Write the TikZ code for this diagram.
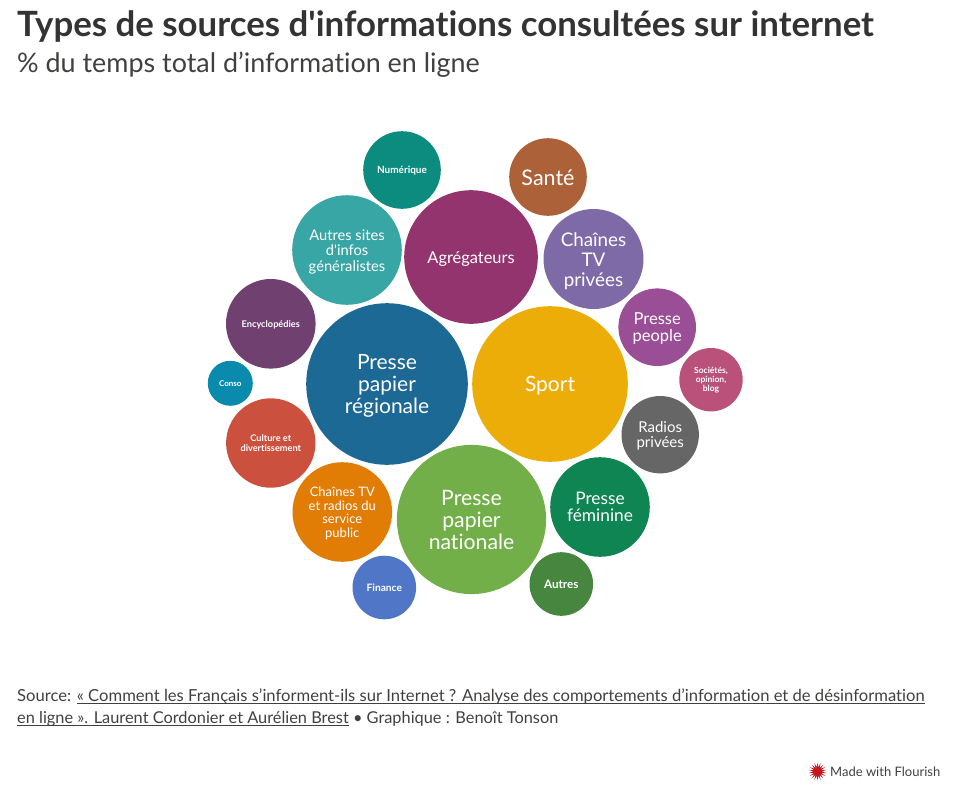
\documentclass[tikz,border=0pt]{standalone}
\usepackage{fontspec}
\setmainfont[Ligatures={TeXOff,NoCommon}]{Lato}
\usetikzlibrary{shapes.geometric}
\newsavebox{\boiteLien}
\newcommand{\souligne}[1]{\sbox{\boiteLien}{#1}\rlap{\rule[-2.5pt]{\wd\boiteLien}{0.9pt}}\usebox{\boiteLien}}
\newcommand{\haut}{\rule{0pt}{1.05em}}
\definecolor{encre}{HTML}{333333}
\definecolor{gris}{HTML}{42403F}
\definecolor{cRegionale}{HTML}{1D6996}
\definecolor{cSport}{HTML}{EDAD08}
\definecolor{cNationale}{HTML}{73AF48}
\definecolor{cAgregateurs}{HTML}{94346E}
\definecolor{cSites}{HTML}{38A6A5}
\definecolor{cPrivees}{HTML}{7F6AA8}
\definecolor{cFeminine}{HTML}{0F8554}
\definecolor{cPublic}{HTML}{E17C05}
\definecolor{cEncyclo}{HTML}{6F4070}
\definecolor{cCulture}{HTML}{CC503E}
\definecolor{cNumerique}{HTML}{0C8C7F}
\definecolor{cSante}{HTML}{AD6139}
\definecolor{cPeople}{HTML}{994E95}
\definecolor{cRadios}{HTML}{666666}
\definecolor{cFinance}{HTML}{4F76C7}
\definecolor{cAutres}{HTML}{46863F}
\definecolor{cSocietes}{HTML}{B9517A}
\definecolor{cConso}{HTML}{0A8AAD}
\definecolor{cLogo}{HTML}{C8161D}
\tikzset{
	bulle/.style n args={4}{circle, fill=#2, text=white, align=center, inner sep=0pt,
		minimum size=2*#1 pt, font=\fontsize{#3}{#4}\selectfont,
		execute at end node={\rule[-.3em]{0pt}{.3em}}},
	petit/.style 2 args={font=\fontsize{#1}{#2}\selectfont\bfseries},
	texte/.style={anchor=base west, inner sep=0pt, text=gris},
}
\begin{document}
\begin{tikzpicture}[x=1pt, y=-1pt]
	\path[use as bounding box] (0,0) rectangle (955,784);
	\node[texte, text=encre, font=\fontsize{34.8}{36}\selectfont\bfseries] (Titre) at (17,37) {Types de sources d'informations consultées sur internet};
	\node[texte, font=\fontsize{26.9}{30}\selectfont] (SousTitre) at (17,72) {\% du temps total d’information en ligne};
	\node[bulle={80.8}{cRegionale}{21}{22}] (Regionale) at (387,384) {\haut Presse\\papier\\régionale};
	\node[bulle={77.8}{cSport}{21}{22}] (Sport) at (550,384) {\haut Sport};
	\node[bulle={74.6}{cNationale}{21.2}{22}] (Nationale) at (471.5,519.5) {\haut Presse\\papier\\nationale};
	\node[bulle={66.8}{cAgregateurs}{16.4}{18}] (Agregateurs) at (471,257) {\haut Agrégateurs};
	\node[bulle={54.8}{cSites}{14.7}{15.5}] (Sites) at (347,250) {\haut Autres sites\\d'infos\\généralistes};
	\node[bulle={50}{cPrivees}{18.8}{20}] (Privees) at (593.5,259) {\haut Chaînes\\TV\\privées};
	\node[bulle={49.8}{cFeminine}{17.3}{17}] (Feminine) at (600,507) {\haut Presse\\féminine};
	\node[bulle={49.8}{cPublic}{13}{13.7}] (Public) at (342.3,512) {\haut Chaînes TV\\et radios du\\service\\public};
	\node[bulle={44.8}{cEncyclo}{9.2}{10}, petit={9.2}{10}] (Encyclo) at (270.8,323.8) {\haut Encyclopédies};
	\node[bulle={44.7}{cCulture}{9.2}{10}, petit={9.2}{10}] (Culture) at (270.8,443) {\haut Culture et\\divertissement};
	\node[bulle={38.8}{cNumerique}{10}{10}, petit={10}{10}] (Numerique) at (402,170) {\haut Numérique};
	\node[bulle={38.8}{cSante}{21.5}{22}] (Sante) at (548,177) {\haut Santé};
	\node[bulle={38.8}{cPeople}{16.5}{17}] (People) at (657.2,327.2) {\haut Presse\\people};
	\node[bulle={38.7}{cRadios}{15}{15}] (Radios) at (660.2,434.7) {\haut Radios\\privées};
	\node[bulle={31.8}{cFinance}{10.2}{10}, petit={10.2}{10}] (Finance) at (384.3,587.5) {\haut Finance};
	\node[bulle={31.8}{cAutres}{11.7}{12}, petit={11.7}{12}] (Autres) at (561.3,584) {\haut Autres};
	\node[bulle={31.7}{cSocietes}{8.5}{9}, petit={8.5}{9}] (Societes) at (711,379.7) {\haut Sociétés,\\opinion,\\blog};
	\node[bulle={22.5}{cConso}{8}{8}, petit={8}{8}] (Conso) at (230.3,383.3) {\haut Conso};
	\node[texte, font=\fontsize{16.6}{20}\selectfont] (SourceA) at (17,701) {Source: \souligne{« Comment les Français s’informent-ils sur Internet ? Analyse des comportements d’information et de désinformation}};
	\node[texte, font=\fontsize{16.35}{20}\selectfont] (SourceB) at (17,723) {\souligne{en ligne ». Laurent Cordonier et Aurélien Brest} • Graphique : Benoît Tonson};
	\node[star, star points=18, star point ratio=2.2, fill=cLogo, minimum size=18pt, inner sep=0pt] (Logo) at (817.5,771.5) {};
	\node[texte, font=\fontsize{13}{16}\selectfont] (Flourish) at (830,776) {Made with Flourish};
\end{tikzpicture}
\end{document}
